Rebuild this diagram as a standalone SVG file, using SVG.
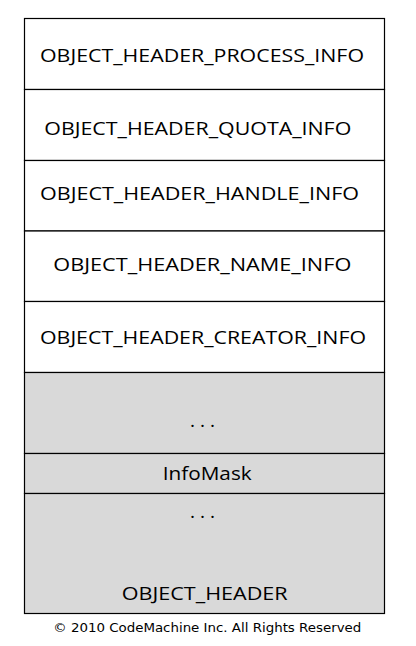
<svg xmlns="http://www.w3.org/2000/svg" width="416" height="646" viewBox="0 0 416 646">
<style>
.box{stroke:#000;stroke-width:1.2}
.w{fill:#fff}
.g{fill:#d9d9d9}
.t{font-family:"Open Sans","Noto Sans",sans-serif;font-size:18px;fill:#000}
.c{font-family:"DejaVu Sans","Liberation Sans",sans-serif;font-size:12px;fill:#000}
</style>
<rect width="416" height="646" fill="#fff"/>
<g id="process_info"><rect class="box w" x="24.5" y="18.5" width="360" height="71"/><text class="t" x="40" y="61.7" textLength="324" lengthAdjust="spacingAndGlyphs">OBJECT_HEADER_PROCESS_INFO</text></g>
<g id="quota_info"><rect class="box w" x="24.5" y="89.5" width="360" height="71"/><text class="t" x="44.3" y="135" textLength="307" lengthAdjust="spacingAndGlyphs">OBJECT_HEADER_QUOTA_INFO</text></g>
<g id="handle_info"><rect class="box w" x="24.5" y="160.5" width="360" height="70.5"/><text class="t" x="40" y="200" textLength="319" lengthAdjust="spacingAndGlyphs">OBJECT_HEADER_HANDLE_INFO</text></g>
<g id="name_info"><rect class="box w" x="24.5" y="231" width="360" height="70.5"/><text class="t" x="53.3" y="270.7" textLength="298" lengthAdjust="spacingAndGlyphs">OBJECT_HEADER_NAME_INFO</text></g>
<g id="creator_info"><rect class="box w" x="24.5" y="301.5" width="360" height="71"/><text class="t" x="40" y="344.3" textLength="326" lengthAdjust="spacingAndGlyphs">OBJECT_HEADER_CREATOR_INFO</text></g>
<g id="header_top"><rect class="box g" x="24.5" y="372.5" width="360" height="81"/><text class="t" x="190" y="426.7" textLength="25" lengthAdjust="spacingAndGlyphs">. . .</text></g>
<g id="infomask"><rect class="box g" x="24.5" y="453.5" width="360" height="40"/><text class="t" x="162.7" y="480" textLength="89" lengthAdjust="spacingAndGlyphs">InfoMask</text></g>
<g id="object_header"><rect class="box g" x="24.5" y="493.5" width="360" height="120"/><text class="t" x="190" y="518" textLength="25" lengthAdjust="spacingAndGlyphs">. . .</text><text class="t" x="121.7" y="600" textLength="166" lengthAdjust="spacingAndGlyphs">OBJECT_HEADER</text></g>
<g id="connectors"></g>
<text class="c" x="53.3" y="632" textLength="308" lengthAdjust="spacingAndGlyphs">© 2010 CodeMachine Inc. All Rights Reserved</text>
</svg>
